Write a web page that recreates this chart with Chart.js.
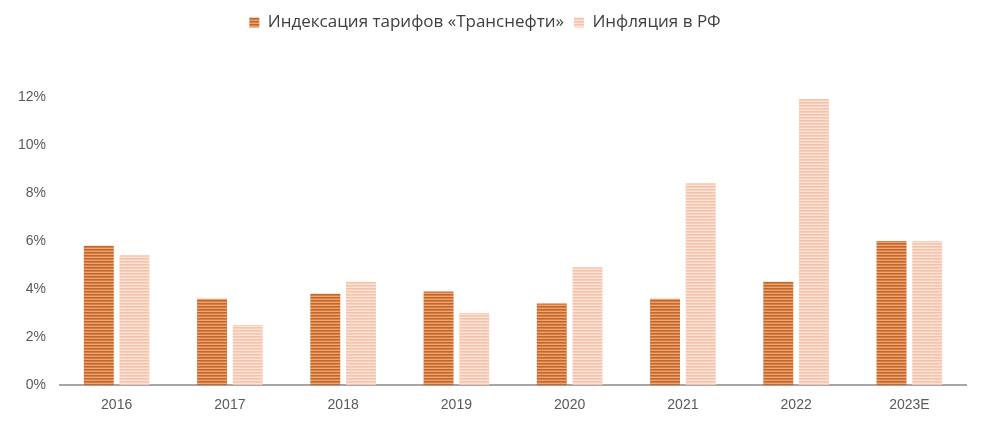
<!DOCTYPE html>
<html><head><meta charset="utf-8">
<script src="https://cdn.jsdelivr.net/npm/chart.js@4"></script>
<style>html,body{margin:0;padding:0;background:#fff}#w{width:982px;height:432px}</style>
</head><body><div id="w"><canvas id="c"></canvas></div>
<script>
const categories = ["2016","2017","2018","2019","2020","2021","2022","2023E"];
const tariffIndexation = [5.8,3.6,3.8,3.9,3.4,3.6,4.3,6.0];
const inflation = [5.4,2.5,4.3,3.0,4.9,8.4,11.9,6.0];
const yTicks = [0,2,4,6,8,10,12];

function stripes(c1,c2){
  const p=document.createElement('canvas');p.width=4;p.height=3;
  const x=p.getContext('2d');x.fillStyle=c2;x.fillRect(0,0,4,3);
  x.fillStyle=c1;x.fillRect(0,0,4,1.6);
  return x.createPattern(p,'repeat');
}
const orange=stripes('#C5652B','#EDA56F');
const pink=stripes('#F6C2AA','#FCE3D8');

new Chart(document.getElementById('c'),{
  type:'bar',
  data:{labels:categories,datasets:[
    {label:'Индексация тарифов «Транснефти»',data:tariffIndexation,backgroundColor:orange,borderWidth:0,categoryPercentage:0.63,barPercentage:0.84},
    {label:'Инфляция в РФ',data:inflation,backgroundColor:pink,borderWidth:0,categoryPercentage:0.63,barPercentage:0.84}
  ]},
  options:{responsive:true,maintainAspectRatio:false,animation:false,
    layout:{padding:{left:4,right:16,top:4,bottom:6}},
    plugins:{tooltip:{enabled:false},
      legend:{position:'top',labels:{font:{family:'"Open Sans", sans-serif',size:17},color:'#404040',boxWidth:10,boxHeight:10,padding:10},
        onClick:null},
    },
    scales:{
      x:{grid:{display:false,drawTicks:false},border:{color:'#A6A6A6',width:2},
        ticks:{color:'#595959',font:{family:'"Liberation Sans", sans-serif',size:14},padding:12}},
      y:{min:0,max:12.9,afterBuildTicks:a=>{a.ticks=yTicks.map(v=>({value:v}));},
        grid:{display:false,drawTicks:false},border:{display:false},
        ticks:{color:'#595959',font:{family:'"Liberation Sans", sans-serif',size:14},padding:14,callback:v=>v+'%'}}
    }
  },
  plugins:[{id:'lg',beforeInit(ch){const f=ch.legend.fit;ch.legend.fit=function(){f.bind(ch.legend)();this.height+=34;};}}]
});
</script></body></html>
